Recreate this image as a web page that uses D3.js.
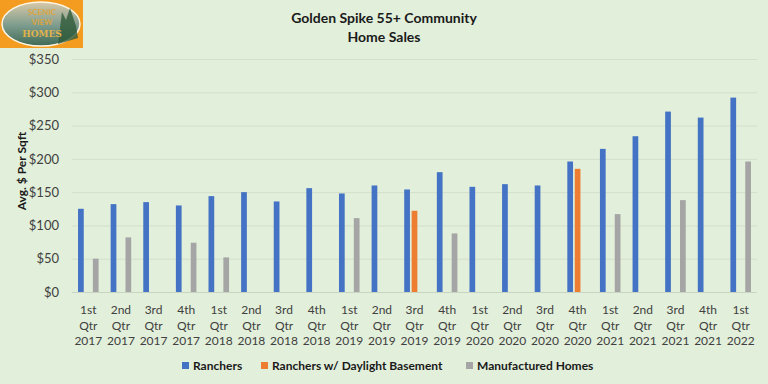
<!DOCTYPE html>
<html>
<head>
<meta charset="utf-8">
<script src="https://cdn.jsdelivr.net/npm/d3@7"></script>
<style>
  body { margin: 0; background: #e2efda; }
  svg { display: block; font-family: Lato, "Open Sans", sans-serif; }
</style>
</head>
<body>
<svg id="chart" width="768" height="384"></svg>
<script>
const quarters = ["1st", "2nd", "3rd", "4th", "1st", "2nd", "3rd", "4th", "1st", "2nd", "3rd", "4th",
  "1st", "2nd", "3rd", "4th", "1st", "2nd", "3rd", "4th", "1st"];
const years = ["2017", "2017", "2017", "2017", "2018", "2018", "2018", "2018", "2019", "2019", "2019", "2019",
  "2020", "2020", "2020", "2020", "2021", "2021", "2021", "2021", "2022"];

const seriesNames = ["Ranchers", "Ranchers w/ Daylight Basement", "Manufactured Homes"];
const seriesColors = ["#4472c4", "#ed7d31", "#a5a5a5"];

const ranchers = [125, 132, 135, 130, 144, 150, 136, 156, 148, 160, 154, 180,
  158, 162, 160, 196, 215, 234, 271, 262, 292];
const daylight = [null, null, null, null, null, null, null, null, null, null, 122, null,
  null, null, null, 185, null, null, null, null, null];
const manufactured = [50, 82, null, 74, 52, null, null, null, 111, null, null, 88,
  null, null, null, null, 117, null, 138, null, 196];

const yTicks = [0, 50, 100, 150, 200, 250, 300, 350];

const svg = d3.select("#chart");
const margin = { left: 72, right: 11, top: 59, bottom: 92 };
const W = 768, H = 384;

const cats = quarters.map(function(q, i) { return i; });
const seriesData = [ranchers, daylight, manufactured];

const x0 = d3.scaleBand()
  .domain(cats)
  .range([margin.left, W - margin.right])
  .paddingInner(0.37)
  .paddingOuter(0.185);

const x1 = d3.scaleBand()
  .domain([0, 1, 2])
  .range([0, x0.bandwidth()])
  .paddingInner(0.23);

const y = d3.scaleLinear()
  .domain([0, 350])
  .range([H - margin.bottom, margin.top]);

// background
svg.append("rect").attr("width", W).attr("height", H).attr("fill", "#e2efda");

// gridlines
svg.append("g")
  .selectAll("line")
  .data(yTicks)
  .enter().append("line")
  .attr("x1", margin.left)
  .attr("x2", W - margin.right)
  .attr("y1", function(d) { return y(d) + 0.5; })
  .attr("y2", function(d) { return y(d) + 0.5; })
  .attr("stroke", function(d) { return d === 0 ? "#c9d4c2" : "#d3dfcc"; })
  .attr("stroke-width", 1);

// y axis labels
const yAxis = svg.append("g")
  .attr("transform", "translate(" + margin.left + ",0)")
  .call(d3.axisLeft(y).tickValues(yTicks).tickSize(0).tickPadding(13)
    .tickFormat(function(d) { return "$" + d; }));
yAxis.select(".domain").remove();
yAxis.selectAll("text")
  .attr("font-size", 13)
  .attr("fill", "#404040")
  .style("font-family", "Lato, sans-serif");

// bars
const groups = svg.append("g")
  .selectAll("g")
  .data(cats)
  .enter().append("g")
  .attr("transform", function(i) { return "translate(" + x0(i) + ",0)"; });

groups.selectAll("rect")
  .data(function(i) {
    return seriesData.map(function(s, k) { return { k: k, v: s[i] }; })
      .filter(function(d) { return d.v != null; });
  })
  .enter().append("rect")
  .attr("x", function(d) { return x1(d.k); })
  .attr("width", x1.bandwidth())
  .attr("y", function(d) { return y(d.v); })
  .attr("height", function(d) { return y(0) - y(d.v); })
  .attr("fill", function(d) { return seriesColors[d.k]; });

// x labels
const cx = function(i) { return x0(i) + x0.bandwidth() / 2; };
const xl = svg.append("g")
  .selectAll("text")
  .data(cats)
  .enter().append("text")
  .attr("x", cx)
  .attr("y", 314)
  .attr("text-anchor", "middle")
  .attr("font-size", 12)
  .attr("fill", "#404040");
xl.append("tspan").attr("x", cx).text(function(i) { return quarters[i]; });
xl.append("tspan").attr("x", cx).attr("dy", 15.5).text("Qtr");
xl.append("tspan").attr("x", cx).attr("dy", 15.5).text(function(i) { return years[i]; });

// title
const title = svg.append("text")
  .attr("x", 384)
  .attr("y", 23)
  .attr("text-anchor", "middle")
  .attr("font-size", 14)
  .attr("font-weight", "bold")
  .attr("fill", "#1a1a1a");
title.append("tspan").attr("x", 384).text("Golden Spike 55+ Community");
title.append("tspan").attr("x", 384).attr("dy", 19).text("Home Sales");

// y title
svg.append("text")
  .attr("transform", "translate(26,171) rotate(-90)")
  .attr("text-anchor", "middle")
  .attr("font-size", 12)
  .attr("font-weight", "bold")
  .attr("fill", "#1a1a1a")
  .text("Avg. $ Per Sqft");

// legend
const legendX = [182, 261, 466];
const legend = svg.append("g")
  .selectAll("g")
  .data(seriesNames)
  .enter().append("g")
  .attr("transform", function(d, i) { return "translate(" + legendX[i] + ",362)"; });
legend.append("rect")
  .attr("width", 7).attr("height", 7)
  .attr("fill", function(d, i) { return seriesColors[i]; });
legend.append("text")
  .attr("x", 11)
  .attr("y", 8)
  .attr("font-size", 12)
  .attr("font-weight", "bold")
  .attr("fill", "#1a1a1a")
  .text(function(d) { return d; });

// logo badge
const logo = svg.append("g");
const defs = svg.append("defs");
const grad = defs.append("linearGradient").attr("id", "sky")
  .attr("x1", 0).attr("y1", 0).attr("x2", 0).attr("y2", 1);
grad.append("stop").attr("offset", "0%").attr("stop-color", "#d8c9a8");
grad.append("stop").attr("offset", "55%").attr("stop-color", "#7a9a8c");
grad.append("stop").attr("offset", "100%").attr("stop-color", "#3f6a55");
logo.append("rect").attr("x", 0).attr("y", 0).attr("width", 83).attr("height", 48).attr("fill", "#f39c1f");
logo.append("ellipse").attr("cx", 41).attr("cy", 24).attr("rx", 39).attr("ry", 22)
  .attr("fill", "url(#sky)").attr("stroke", "#fff6e6").attr("stroke-width", 1.5);
logo.append("path").attr("d", "M58,44 L62,12 L66,20 L70,8 L76,26 L78,38 Z").attr("fill", "#2f5a3a").attr("opacity", 0.8);
logo.append("text").attr("x", 42).attr("y", 15).attr("text-anchor", "middle")
  .attr("font-size", 8).attr("font-weight", "bold").attr("fill", "#d9a441").text("SCENIC");
logo.append("text").attr("x", 42).attr("y", 25).attr("text-anchor", "middle")
  .attr("font-size", 8).attr("font-weight", "bold").attr("fill", "#d9a441").text("VIEW");
logo.append("text").attr("x", 42).attr("y", 37).attr("text-anchor", "middle")
  .attr("font-size", 9).attr("font-weight", "bold").attr("fill", "#e0b24a")
  .style("font-family", "DejaVu Serif, serif").text("HOMES");
</script>
</body>
</html>
